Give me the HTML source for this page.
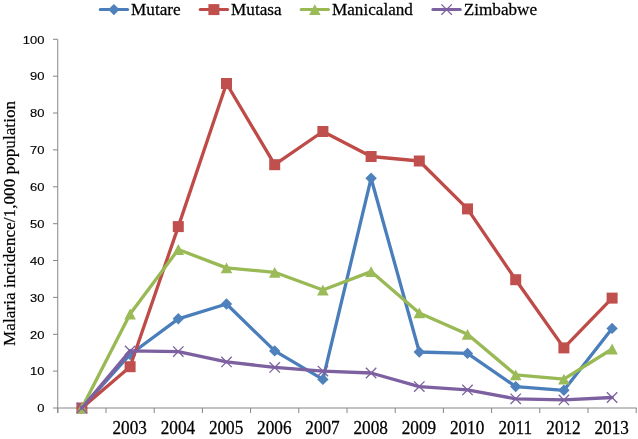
<!DOCTYPE html><html><head><meta charset="utf-8"><title>chart</title><style>html,body{margin:0;padding:0;background:#fff}svg{display:block}</style></head><body><svg width="638" height="439" viewBox="0 0 638 439">
<rect width="638" height="439" fill="#fff"/>
<g stroke="#868686" stroke-width="1" fill="none">
<path d="M57.75 39.3V413.0"/>
<path d="M57.75 408.0H636.7"/>
<path d="M53.0 408.0H57.75"/>
<path d="M53.0 371.1H57.75"/>
<path d="M53.0 334.3H57.75"/>
<path d="M53.0 297.4H57.75"/>
<path d="M53.0 260.5H57.75"/>
<path d="M53.0 223.7H57.75"/>
<path d="M53.0 186.8H57.75"/>
<path d="M53.0 149.9H57.75"/>
<path d="M53.0 113.0H57.75"/>
<path d="M53.0 76.2H57.75"/>
<path d="M53.0 39.3H57.75"/>
<path d="M57.8 408.0V413.0"/>
<path d="M106.0 408.0V413.0"/>
<path d="M154.2 408.0V413.0"/>
<path d="M202.4 408.0V413.0"/>
<path d="M250.6 408.0V413.0"/>
<path d="M298.8 408.0V413.0"/>
<path d="M347.0 408.0V413.0"/>
<path d="M395.2 408.0V413.0"/>
<path d="M443.4 408.0V413.0"/>
<path d="M491.6 408.0V413.0"/>
<path d="M539.8 408.0V413.0"/>
<path d="M588.0 408.0V413.0"/>
<path d="M636.2 408.0V413.0"/>
</g>
<g font-family="'Liberation Sans',sans-serif" font-size="12" fill="#000" stroke="#000" stroke-width="0.15" text-anchor="end">
<text transform="translate(44.4 412.2) scale(1.08 0.98)">0</text>
<text transform="translate(44.4 375.3) scale(1.08 0.98)">10</text>
<text transform="translate(44.4 338.5) scale(1.08 0.98)">20</text>
<text transform="translate(44.4 301.6) scale(1.08 0.98)">30</text>
<text transform="translate(44.4 264.7) scale(1.08 0.98)">40</text>
<text transform="translate(44.4 227.8) scale(1.08 0.98)">50</text>
<text transform="translate(44.4 191.0) scale(1.08 0.98)">60</text>
<text transform="translate(44.4 154.1) scale(1.08 0.98)">70</text>
<text transform="translate(44.4 117.2) scale(1.08 0.98)">80</text>
<text transform="translate(44.4 80.4) scale(1.08 0.98)">90</text>
<text transform="translate(44.4 43.5) scale(1.08 0.98)">100</text>
</g>
<g font-family="'Liberation Serif',serif" font-size="17.2" fill="#000" stroke="#000" stroke-width="0.25" text-anchor="middle">
<text transform="translate(129.7 433.6) scale(1 1.05)">2003</text>
<text transform="translate(177.9 433.6) scale(1 1.05)">2004</text>
<text transform="translate(226.1 433.6) scale(1 1.05)">2005</text>
<text transform="translate(274.3 433.6) scale(1 1.05)">2006</text>
<text transform="translate(322.5 433.6) scale(1 1.05)">2007</text>
<text transform="translate(370.7 433.6) scale(1 1.05)">2008</text>
<text transform="translate(418.9 433.6) scale(1 1.05)">2009</text>
<text transform="translate(467.1 433.6) scale(1 1.05)">2010</text>
<text transform="translate(515.3 433.6) scale(1 1.05)">2011</text>
<text transform="translate(563.5 433.6) scale(1 1.05)">2012</text>
<text transform="translate(611.7 433.6) scale(1 1.05)">2013</text>
</g>
<text transform="translate(14.5 223.4) rotate(-90) scale(1 1.03)" font-family="'Liberation Serif',serif" font-size="17.1" textLength="245" lengthAdjust="spacing" text-anchor="middle" fill="#000" stroke="#000" stroke-width="0.2">Malaria incidence/1,000 population</text>
<polyline points="81.9,408.0 130.1,354.5 178.3,318.8 226.5,304.0 274.7,350.9 322.9,379.4 371.1,178.3 419.3,352.0 467.5,353.4 515.7,386.6 563.9,390.3 612.1,328.4" fill="none" stroke="#4a7ebb" stroke-width="3.3" stroke-linejoin="round" stroke-linecap="round"/>
<path d="M81.9 402.3L87.6 408.0L81.9 413.7L76.2 408.0Z" fill="#4f81bd"/>
<path d="M130.1 348.8L135.8 354.5L130.1 360.2L124.4 354.5Z" fill="#4f81bd"/>
<path d="M178.3 313.1L184.0 318.8L178.3 324.5L172.6 318.8Z" fill="#4f81bd"/>
<path d="M226.5 298.3L232.2 304.0L226.5 309.7L220.8 304.0Z" fill="#4f81bd"/>
<path d="M274.7 345.2L280.4 350.9L274.7 356.6L269.0 350.9Z" fill="#4f81bd"/>
<path d="M322.9 373.7L328.6 379.4L322.9 385.1L317.2 379.4Z" fill="#4f81bd"/>
<path d="M371.1 172.6L376.8 178.3L371.1 184.0L365.4 178.3Z" fill="#4f81bd"/>
<path d="M419.3 346.3L425.0 352.0L419.3 357.7L413.6 352.0Z" fill="#4f81bd"/>
<path d="M467.5 347.7L473.2 353.4L467.5 359.1L461.8 353.4Z" fill="#4f81bd"/>
<path d="M515.7 380.9L521.4 386.6L515.7 392.3L510.0 386.6Z" fill="#4f81bd"/>
<path d="M563.9 384.6L569.6 390.3L563.9 396.0L558.2 390.3Z" fill="#4f81bd"/>
<path d="M612.1 322.7L617.8 328.4L612.1 334.1L606.4 328.4Z" fill="#4f81bd"/>
<polyline points="81.9,408.0 130.1,366.7 178.3,226.6 226.5,83.5 274.7,164.7 322.9,131.5 371.1,156.5 419.3,161.0 467.5,208.9 515.7,279.7 563.9,347.9 612.1,298.1" fill="none" stroke="#be4b48" stroke-width="3.3" stroke-linejoin="round" stroke-linecap="round"/>
<rect x="76.4" y="402.5" width="11.0" height="11.0" fill="#c0504d"/>
<rect x="124.6" y="361.2" width="11.0" height="11.0" fill="#c0504d"/>
<rect x="172.8" y="221.1" width="11.0" height="11.0" fill="#c0504d"/>
<rect x="221.0" y="78.0" width="11.0" height="11.0" fill="#c0504d"/>
<rect x="269.2" y="159.2" width="11.0" height="11.0" fill="#c0504d"/>
<rect x="317.4" y="126.0" width="11.0" height="11.0" fill="#c0504d"/>
<rect x="365.6" y="151.0" width="11.0" height="11.0" fill="#c0504d"/>
<rect x="413.8" y="155.5" width="11.0" height="11.0" fill="#c0504d"/>
<rect x="462.0" y="203.4" width="11.0" height="11.0" fill="#c0504d"/>
<rect x="510.2" y="274.2" width="11.0" height="11.0" fill="#c0504d"/>
<rect x="558.4" y="342.4" width="11.0" height="11.0" fill="#c0504d"/>
<rect x="606.6" y="292.6" width="11.0" height="11.0" fill="#c0504d"/>
<polyline points="81.9,408.0 130.1,314.0 178.3,249.5 226.5,267.9 274.7,272.3 322.9,290.0 371.1,271.6 419.3,312.9 467.5,334.3 515.7,374.8 563.9,379.2 612.1,349.0" fill="none" stroke="#98b954" stroke-width="3.3" stroke-linejoin="round" stroke-linecap="round"/>
<path d="M81.9 402.6L87.7 413.4L76.1 413.4Z" fill="#9bbb59"/>
<path d="M130.1 308.6L135.9 319.4L124.3 319.4Z" fill="#9bbb59"/>
<path d="M178.3 244.1L184.1 254.9L172.5 254.9Z" fill="#9bbb59"/>
<path d="M226.5 262.5L232.3 273.3L220.7 273.3Z" fill="#9bbb59"/>
<path d="M274.7 266.9L280.5 277.7L268.9 277.7Z" fill="#9bbb59"/>
<path d="M322.9 284.6L328.7 295.4L317.1 295.4Z" fill="#9bbb59"/>
<path d="M371.1 266.2L376.9 277.0L365.3 277.0Z" fill="#9bbb59"/>
<path d="M419.3 307.5L425.1 318.3L413.5 318.3Z" fill="#9bbb59"/>
<path d="M467.5 328.9L473.3 339.7L461.7 339.7Z" fill="#9bbb59"/>
<path d="M515.7 369.4L521.5 380.2L509.9 380.2Z" fill="#9bbb59"/>
<path d="M563.9 373.8L569.7 384.6L558.1 384.6Z" fill="#9bbb59"/>
<path d="M612.1 343.6L617.9 354.4L606.3 354.4Z" fill="#9bbb59"/>
<polyline points="81.9,408.0 130.1,350.9 178.3,351.6 226.5,361.9 274.7,367.4 322.9,371.1 371.1,373.0 419.3,386.6 467.5,389.9 515.7,398.8 563.9,399.9 612.1,397.5" fill="none" stroke="#7d60a0" stroke-width="3.3" stroke-linejoin="round" stroke-linecap="round"/>
<path d="M76.7 402.8L87.1 413.2M87.1 402.8L76.7 413.2" stroke="#7d60a0" stroke-width="1.3" fill="none"/>
<path d="M124.9 345.7L135.3 356.1M135.3 345.7L124.9 356.1" stroke="#7d60a0" stroke-width="1.3" fill="none"/>
<path d="M173.1 346.4L183.5 356.8M183.5 346.4L173.1 356.8" stroke="#7d60a0" stroke-width="1.3" fill="none"/>
<path d="M221.3 356.7L231.7 367.1M231.7 356.7L221.3 367.1" stroke="#7d60a0" stroke-width="1.3" fill="none"/>
<path d="M269.5 362.2L279.9 372.6M279.9 362.2L269.5 372.6" stroke="#7d60a0" stroke-width="1.3" fill="none"/>
<path d="M317.7 365.9L328.1 376.3M328.1 365.9L317.7 376.3" stroke="#7d60a0" stroke-width="1.3" fill="none"/>
<path d="M365.9 367.8L376.3 378.2M376.3 367.8L365.9 378.2" stroke="#7d60a0" stroke-width="1.3" fill="none"/>
<path d="M414.1 381.4L424.5 391.8M424.5 381.4L414.1 391.8" stroke="#7d60a0" stroke-width="1.3" fill="none"/>
<path d="M462.3 384.7L472.7 395.1M472.7 384.7L462.3 395.1" stroke="#7d60a0" stroke-width="1.3" fill="none"/>
<path d="M510.5 393.6L520.9 404.0M520.9 393.6L510.5 404.0" stroke="#7d60a0" stroke-width="1.3" fill="none"/>
<path d="M558.7 394.7L569.1 405.1M569.1 394.7L558.7 405.1" stroke="#7d60a0" stroke-width="1.3" fill="none"/>
<path d="M606.9 392.3L617.3 402.7M617.3 392.3L606.9 402.7" stroke="#7d60a0" stroke-width="1.3" fill="none"/>
<path d="M100.2 9.5H127.6" stroke="#4a7ebb" stroke-width="3" stroke-linecap="round"/>
<path d="M113.9 3.9L119.6 9.6L113.9 15.3L108.2 9.6Z" fill="#4f81bd"/>
<text transform="translate(131.1 14.9) scale(1 1.02)" font-family="'Liberation Serif',serif" font-size="17.15" stroke="#000" stroke-width="0.25" fill="#000">Mutare</text>
<path d="M200.2 9.5H227.6" stroke="#be4b48" stroke-width="3" stroke-linecap="round"/>
<rect x="208.4" y="4.1" width="11.0" height="11.0" fill="#c0504d"/>
<text transform="translate(231.1 14.9) scale(1 1.02)" font-family="'Liberation Serif',serif" font-size="17.15" stroke="#000" stroke-width="0.25" fill="#000">Mutasa</text>
<path d="M301.1 9.5H328.5" stroke="#98b954" stroke-width="3" stroke-linecap="round"/>
<path d="M314.8 4.2L320.6 15.0L309.0 15.0Z" fill="#9bbb59"/>
<text transform="translate(332.0 14.9) scale(1 1.02)" font-family="'Liberation Serif',serif" font-size="17.15" stroke="#000" stroke-width="0.25" fill="#000">Manicaland</text>
<path d="M432.9 9.5H460.3" stroke="#7d60a0" stroke-width="3" stroke-linecap="round"/>
<path d="M441.4 4.4L451.8 14.8M451.8 4.4L441.4 14.8" stroke="#7d60a0" stroke-width="1.3" fill="none"/>
<text transform="translate(463.8 14.9) scale(1 1.02)" font-family="'Liberation Serif',serif" font-size="17.15" stroke="#000" stroke-width="0.25" fill="#000">Zimbabwe</text>
</svg></body></html>
